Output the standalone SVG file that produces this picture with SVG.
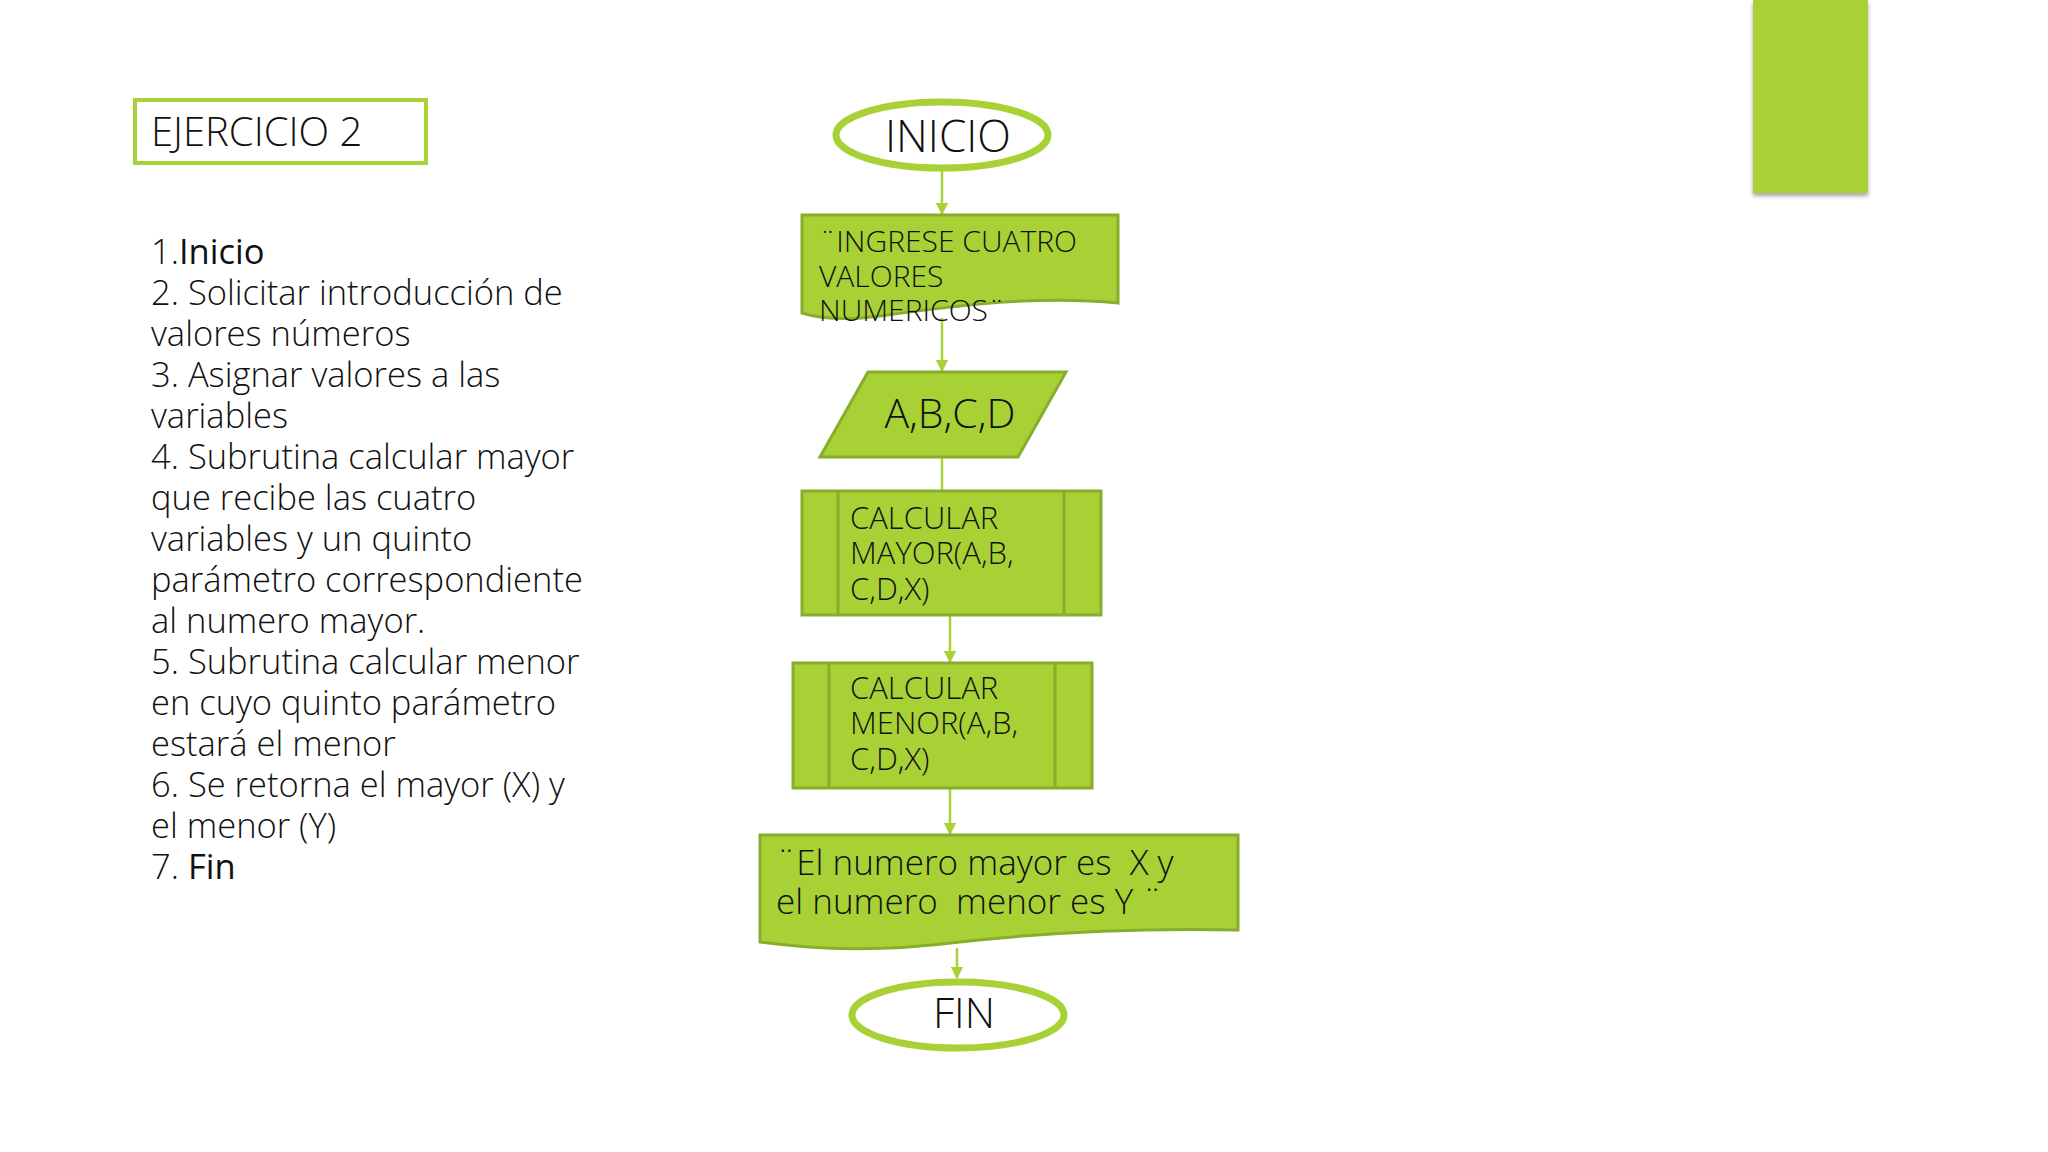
<svg xmlns="http://www.w3.org/2000/svg" width="2048" height="1152" viewBox="0 0 2048 1152">
<defs>
<style>
.t{font-family:"Open Sans","Noto Sans",sans-serif;font-weight:300;fill:#111}
.shape{fill:#A8D136;stroke:#86AE2C;stroke-width:3}
.term{fill:#fff;stroke:#A8D136;stroke-width:7}
.c{stroke:#A8D136;stroke-width:2.5;fill:none}
</style>
<marker id="ah" viewBox="0 0 10 10" refX="9" refY="5" markerWidth="5" markerHeight="5" orient="auto"><path d="M0,0L10,5L0,10z" fill="#A8D136"/></marker>
<filter id="sh"><feDropShadow dx="0" dy="3" stdDeviation="2" flood-opacity="0.35"/></filter>
</defs>
<rect width="2048" height="1152" fill="#fff"/>
<rect x="1753" y="0" width="115" height="193" fill="#A8D136" filter="url(#sh)"/>
<g id="title"><rect x="135" y="100" width="291" height="63" fill="none" stroke="#A8D136" stroke-width="4"/>
<text class="t" x="151" y="146" font-size="40">EJERCICIO 2</text></g>
<g id="steps"><text class="t" font-size="34.5">
<tspan x="151" y="264">1.<tspan font-weight="400">Inicio</tspan></tspan>
<tspan x="151" y="305">2. Solicitar introducción de</tspan>
<tspan x="151" y="346">valores números</tspan>
<tspan x="151" y="387">3. Asignar valores a las</tspan>
<tspan x="151" y="428">variables</tspan>
<tspan x="151" y="469">4. Subrutina calcular mayor</tspan>
<tspan x="151" y="510">que recibe las cuatro</tspan>
<tspan x="151" y="551">variables y un quinto</tspan>
<tspan x="151" y="592">parámetro correspondiente</tspan>
<tspan x="151" y="633">al numero mayor.</tspan>
<tspan x="151" y="674">5. Subrutina calcular menor</tspan>
<tspan x="151" y="715">en cuyo quinto parámetro</tspan>
<tspan x="151" y="756">estará el menor</tspan>
<tspan x="151" y="797">6. Se retorna el mayor (X) y</tspan>
<tspan x="151" y="838">el menor (Y)</tspan>
<tspan x="151" y="879">7. <tspan font-weight="400">Fin</tspan></tspan>
</text></g>
<g id="connectors">
<line class="c" x1="942" y1="171" x2="942" y2="214" marker-end="url(#ah)"/>
<line class="c" x1="942" y1="318" x2="942" y2="371" marker-end="url(#ah)"/>
<line class="c" x1="942" y1="457" x2="942" y2="492"/>
<line class="c" x1="950" y1="615" x2="950" y2="662" marker-end="url(#ah)"/>
<line class="c" x1="950" y1="788" x2="950" y2="834" marker-end="url(#ah)"/>
<line class="c" x1="957" y1="948" x2="957" y2="978" marker-end="url(#ah)"/>
</g>
<g id="inicio"><ellipse class="term" cx="942" cy="135" rx="106" ry="33"/>
<text class="t" x="948" y="152" font-size="44" font-weight="400" text-anchor="middle">INICIO</text></g>
<g id="ingrese"><path class="shape" d="M802,215H1118V303C1040,295 960,305 880,316C850,320 825,320 802,313Z"/>
<text class="t" font-size="30"><tspan x="819" y="252">¨INGRESE CUATRO</tspan><tspan x="819" y="287">VALORES</tspan><tspan x="819" y="321">NUMERICOS¨</tspan></text></g>
<g id="entrada"><path class="shape" d="M868,372H1066L1018,457H820Z"/>
<text class="t" x="950" y="428" font-size="41" text-anchor="middle">A,B,C,D</text></g>
<g id="mayor"><rect class="shape" x="802" y="491" width="299" height="124"/><line x1="838" y1="491" x2="838" y2="615" stroke="#86AE2C" stroke-width="3"/><line x1="1064" y1="491" x2="1064" y2="615" stroke="#86AE2C" stroke-width="3"/>
<text class="t" font-size="31"><tspan x="850" y="529">CALCULAR</tspan><tspan x="850" y="564">MAYOR(A,B,</tspan><tspan x="850" y="600">C,D,X)</tspan></text></g>
<g id="menor"><rect class="shape" x="793" y="663" width="299" height="125"/><line x1="829" y1="663" x2="829" y2="788" stroke="#86AE2C" stroke-width="3"/><line x1="1055" y1="663" x2="1055" y2="788" stroke="#86AE2C" stroke-width="3"/>
<text class="t" font-size="31"><tspan x="850" y="699">CALCULAR</tspan><tspan x="850" y="734">MENOR(A,B,</tspan><tspan x="850" y="770">C,D,X)</tspan></text></g>
<g id="salida"><path class="shape" d="M760,835H1238V930C1150,928 1050,932 960,942C880,952 820,950 760,942Z"/>
<text class="t" font-size="35"><tspan x="776" y="875">¨El numero mayor es &#160;X y</tspan><tspan x="776" y="914">el numero &#160;menor es Y ¨</tspan></text></g>
<g id="fin"><ellipse class="term" cx="958" cy="1015" rx="106" ry="33"/>
<text class="t" x="964" y="1028" font-size="42" font-weight="400" text-anchor="middle">FIN</text></g>
</svg>
